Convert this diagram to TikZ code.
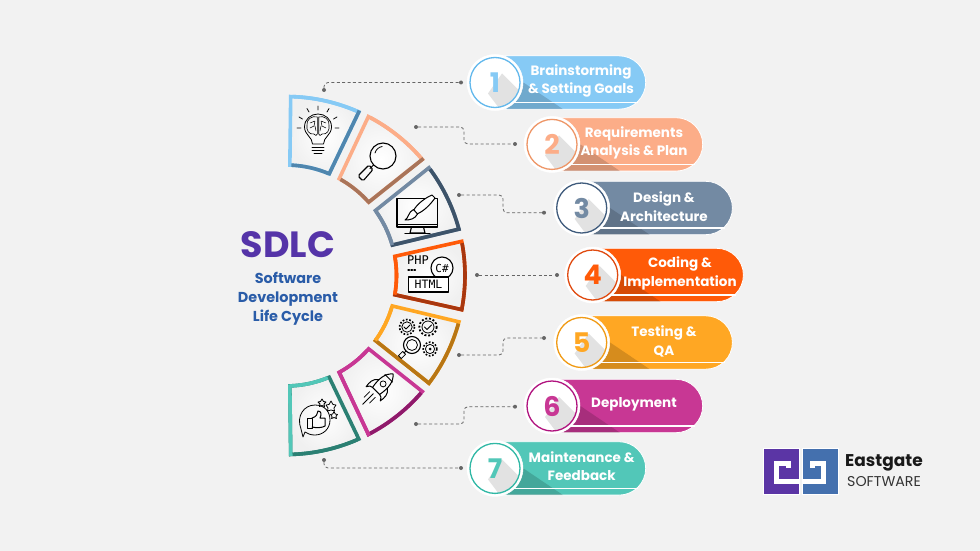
\documentclass[tikz,border=0pt]{standalone}
\usepackage{fontspec}
\setmainfont{Poppins}
\newfontfamily\codefont{DejaVu Sans Mono}
\usetikzlibrary{shapes.misc}

\definecolor{pagebg}{HTML}{F2F2F2}
\definecolor{titlepurple}{HTML}{5534A8}
\definecolor{titleblue}{HTML}{2A5CA8}
\definecolor{dashgray}{HTML}{666666}
\definecolor{shadowgray}{HTML}{E2E2E2}
\definecolor{logoblue}{HTML}{4470AE}
\definecolor{logopurple}{HTML}{5B35A5}
\definecolor{blueA}{HTML}{86CAF5}
\definecolor{blueB}{HTML}{4F86AE}
\definecolor{blueC}{HTML}{62B8EC}
\definecolor{peachA}{HTML}{FCAD88}
\definecolor{peachB}{HTML}{A97459}
\definecolor{peachC}{HTML}{EE9667}
\definecolor{slateA}{HTML}{738AA3}
\definecolor{slateB}{HTML}{3D5369}
\definecolor{slateC}{HTML}{3F5B7C}
\definecolor{redA}{HTML}{FF5A08}
\definecolor{redB}{HTML}{A8370F}
\definecolor{redC}{HTML}{E04A10}
\definecolor{amberA}{HTML}{FFA723}
\definecolor{amberB}{HTML}{B87614}
\definecolor{amberC}{HTML}{F09A14}
\definecolor{pinkA}{HTML}{C83794}
\definecolor{pinkB}{HTML}{8F1A6B}
\definecolor{pinkC}{HTML}{B0127E}
\definecolor{tealA}{HTML}{52C7B8}
\definecolor{tealB}{HTML}{2B8073}
\definecolor{tealC}{HTML}{30B8A5}

\tikzset{
	sectorfill/.style={inner color=white,outer color=black!6},
	sectoredge/.style={line width=3.6pt,line cap=butt},
	icon/.style={draw=black,line width=0.8pt,line join=round,line cap=round},
	dashlink/.style={draw=dashgray,line width=0.8pt,dash pattern=on 3pt off 2.4pt,rounded corners=4pt},
	linkdot/.style={circle,fill=dashgray,inner sep=0pt,minimum size=4pt},
	pillbox/.style={rounded rectangle,draw=white,line width=0.8pt,minimum width=177.4pt,minimum height=53.4pt,inner sep=0pt},
	pilltext/.style={text=white,font=\bfseries\fontsize{13.5}{18.5}\selectfont,align=center},
	numtext/.style={font=\bfseries\fontsize{27}{27}\selectfont},
	subtitle/.style={text=titleblue,font=\bfseries\fontsize{14.4}{19.2}\selectfont,align=center}
}

% outer angles, inner angles, colours of outer arc, lower side, inner arc, upper side
\newcommand{\sectorbox}[8]{
	\shade[sectorfill] (#1:179) arc[start angle=#1,end angle=#2,radius=179] -- (#4:110.5) arc[start angle=#4,end angle=#3,radius=110.5] -- cycle;
	\draw[sectoredge,draw=#8,line join=miter] (#1:179) arc[start angle=#1,end angle=#2,radius=179] -- (#4:110.5) arc[start angle=#4,end angle=#3,radius=110.5] -- cycle;
	\draw[sectoredge,draw=#5] (#1+0.6:179) arc[start angle=#1+0.6,end angle=#2+0.5,radius=179];
	\draw[sectoredge,draw=#6] (#2:180.5) -- (#4:109);
	\draw[sectoredge,draw=#7] (#4:110.5) arc[start angle=#4,end angle=#3+0.8,radius=110.5];
}

% name, x, y, pill colour, ring colour, number
\newcommand{\stepbadge}[6]{
	\node[pillbox,fill=#4] (p#1) at (#2+62,#3) {};
	\fill[black,opacity=0.16] (#2+21,#3-5) -- (#2+68,#3+26.7) -- (#2+12,#3+26.7) -- cycle;
	\draw[white,line width=1.2pt] (#2,#3+20) -- (#2+143,#3+20);
	\node[circle,fill=white,draw=white,line width=0.5pt,minimum size=56pt,inner sep=0pt] (c#1) at (#2,#3) {};
	\begin{scope}
		\clip (#2,#3) circle (25);
		\fill[shadowgray] (#2+7,#3-9) -- (#2+40,#3+24) -- (#2+15,#3+40) -- (#2-7,#3+11) -- cycle;
	\end{scope}
	\node[circle,draw=#5,line width=1.3pt,minimum size=50pt,inner sep=0pt] (r#1) at (#2,#3) {};
	\node[numtext,text=#4] (n#1) at (#2,#3) {#6};
}

\begin{document}
\begin{tikzpicture}[x=1pt,y=-1pt]
	\fill[pagebg] (0,0) rectangle (980,551);
	\path[use as bounding box] (0,0) rectangle (980,551);

	\node[text=titlepurple,font=\bfseries\fontsize{36.5}{36.5}\selectfont] (sdlc) at (288,245) {SDLC};
	\node[subtitle] (sub) at (288,298.5) {Software\\Development\\Life Cycle};

	\begin{scope}[shift={(286,275.5)}]
		\sectorbox{-88.5}{-66}{-88}{-67}{blueA}{blueB}{blueB}{blueA}
		\sectorbox{-62.6}{-40.4}{-61.2}{-41.6}{peachA}{peachB}{peachB}{peachA}
		\sectorbox{-37}{-15}{-36}{-16}{slateB}{slateB}{slateA}{slateA}
		\sectorbox{-11}{11}{-10}{10}{redB}{redB}{redA}{redA}
		\sectorbox{15}{37}{16}{36}{amberB}{amberB}{amberA}{amberA}
		\sectorbox{40.4}{62.6}{41.6}{61.2}{pinkB}{pinkA}{pinkA}{pinkA}
		\sectorbox{66}{88.5}{67}{88}{tealB}{tealA}{tealA}{tealB}
	\end{scope}

	% bulb
	\begin{scope}[shift={(318,128)}]
		\draw[icon] (-5.5,16) .. controls (-5.5,9) and (-13.5,7) .. (-13.5,-1) .. controls (-13.5,-9) and (-7,-14) .. (0,-14) .. controls (7,-14) and (13.5,-9) .. (13.5,-1) .. controls (13.5,7) and (5.5,9) .. (5.5,16) -- cycle;
		\draw[icon] (-6,19) -- (6,19) (-6,22) -- (6,22) (-4,25) -- (4,25);
		\draw[icon,line width=0.6pt] (-0.7,-11) .. controls (-6,-13) and (-12,-8) .. (-11,-3) .. controls (-12,2) and (-9,7) .. (-4,6) .. controls (-3,8) and (-1,8) .. (-0.7,6) -- cycle;
		\draw[icon,line width=0.6pt] (0.7,-11) .. controls (6,-13) and (12,-8) .. (11,-3) .. controls (12,2) and (9,7) .. (4,6) .. controls (3,8) and (1,8) .. (0.7,6) -- cycle;
		\draw[icon,line width=0.5pt] (-8,-5) -- (-3,-7) -- (-4,-2) -- (-8,0) (-3,-2) -- (-2,3) (8,-5) -- (3,-7) -- (4,-2) -- (8,0) (3,-2) -- (2,3);
		\draw[icon] (0,-18) -- (0,-22) (-9,-16) -- (-11,-19.5) (9,-16) -- (11,-19.5) (-15.5,-9) -- (-19,-11) (15.5,-9) -- (19,-11) (-17,0) -- (-21,0) (17,0) -- (21,0);
	\end{scope}

	% magnifier
	\draw[icon,line width=1.1pt] (383,156) circle (13);
	\draw[icon] (375,153) arc[start angle=195,end angle=260,radius=9];
	\draw[icon] (373.5,165) -- (370,168.5);
	\draw[icon,line width=1.1pt,rounded corners=1.5pt] (369,165) -- (373,169.5) -- (363,181) -- (358,176) -- cycle;

	% monitor
	\draw[icon,line width=1.2pt] (397,198.5) rectangle (437.5,227);
	\draw[icon] (397,224) -- (437.5,224);
	\draw[icon,line width=1.2pt] (411.5,227) -- (410,233) -- (425,233) -- (423.5,227);
	\draw[icon,line width=1.2pt] (405,233.5) -- (430,233.5);
	\draw[icon,fill=white,line width=1pt] (432,195) -- (435,198) .. controls (430,205) and (424,211) .. (417,214) -- (413.5,210.5) .. controls (417,204) and (425,198) .. (432,195) -- cycle;
	\draw[icon,fill=white,line width=1pt] (413.5,209.5) -- (417.5,214) .. controls (415,219) and (410,220) .. (405,220) .. controls (409,218) and (408,212) .. (413.5,209.5) -- cycle;

	% code
	\node[font=\codefont\fontsize{12}{12}\selectfont,inner sep=0pt] (php) at (418,260) {PHP};
	\draw[icon,line width=1.2pt,dash pattern=on 1.4pt off 1.6pt] (408,270) -- (416,270);
	\draw[icon,fill=white,line width=1.1pt] (442,268) circle (11);
	\node[font=\codefont\fontsize{11}{11}\selectfont,inner sep=0pt] (csharp) at (442,268) {C\#};
	\draw[icon,fill=white,line width=1.1pt] (408.5,277) rectangle (448.5,292);
	\node[font=\codefont\fontsize{11.5}{11.5}\selectfont,inner sep=0pt] (html) at (428.5,284.5) {HTML};

	% gears
	\draw[icon,line width=1.6pt,dash pattern=on 1.7pt off 1.7pt,line cap=butt] (407,327) circle (7.5);
	\draw[icon] (407,327) circle (5.2);
	\draw[icon] (404,327) -- (406,329) -- (410,325);
	\draw[icon,line width=1.8pt,dash pattern=on 1.9pt off 1.9pt,line cap=butt] (428,327) circle (8.7);
	\draw[icon] (428,327) circle (6);
	\draw[icon] (424.5,327) -- (427,329.5) -- (431.5,325);
	\draw[icon,line width=1.1pt] (412,345) circle (8.5);
	\draw[icon] (412,345) circle (5.5);
	\draw[icon] (406,351) -- (404,353);
	\draw[icon,rotate around={45:(402,355)}] (399,353) rectangle (405,357);
	\draw[icon,line width=1.6pt,dash pattern=on 1.7pt off 1.7pt,line cap=butt] (430,349) circle (6.8);
	\draw[icon] (430,349) circle (4.6);
	\fill (430,349) circle (1.5);

	% rocket
	\begin{scope}[shift={(381,386)},rotate=-45]
		\draw[icon,line width=1pt] (0,-17) .. controls (-6,-12) and (-7,-4) .. (-5,7) -- (5,7) .. controls (7,-4) and (6,-12) .. (0,-17) -- cycle;
		\draw[icon] (-5.5,-11) -- (5.5,-11);
		\draw[icon] (0,-3) circle (3);
		\draw[icon,line width=1pt] (-6,-3) .. controls (-11,0) and (-11,6) .. (-10,11) .. controls (-9,8) and (-7,7) .. (-5,7);
		\draw[icon,line width=1pt] (6,-3) .. controls (11,0) and (11,6) .. (10,11) .. controls (9,8) and (7,7) .. (5,7);
		\draw[icon] (-4,12) -- (-4,20) (0,11) -- (0,26) (4,12) -- (4,20);
	\end{scope}

	% thumb
	\draw[icon] (301,429) .. controls (296,416) and (304,405) .. (315,405) .. controls (325,405) and (330,412) .. (330,420) .. controls (330,429) and (323,435) .. (315,435) .. controls (311,435) and (308,434) .. (305,432) -- (303,437) -- cycle;
	\draw[icon,line width=1pt] (307,418) rectangle (312,428);
	\draw[icon,line width=1pt] (312,418) .. controls (316,417) and (318,414) .. (318,411) .. controls (321,411) and (322,414) .. (320,418) -- (325,418) -- (325,426) .. controls (322,428) and (316,428) .. (312,427);
	\draw[icon] (322,399) -- (323.5,401.5) -- (326,402) -- (324,404) -- (324.5,406.5) -- (322,405.5) -- (319.5,406.5) -- (320,404) -- (318,402) -- (320.5,401.5) -- cycle;
	\draw[icon] (331,401) -- (333,404.5) -- (336,405) -- (334,408) -- (334.5,411) -- (331,410) -- (327.5,411) -- (328,408) -- (326,405) -- (329,404.5) -- cycle;
	\draw[icon] (334,411.5) -- (335.3,414) -- (337.5,414.5) -- (336,416.3) -- (336.4,418.5) -- (334,417.5) -- (331.6,418.5) -- (332,416.3) -- (330.5,414.5) -- (332.7,414) -- cycle;

	% pills
	\stepbadge{1}{495}{82.5}{blueA}{blueC}{1}
	\stepbadge{2}{552}{144.4}{peachA}{peachC}{2}
	\stepbadge{3}{581.7}{208}{slateA}{slateC}{3}
	\stepbadge{4}{592.7}{275}{redA}{redC}{4}
	\stepbadge{5}{581.7}{342.5}{amberA}{amberC}{5}
	\stepbadge{6}{552}{406}{pinkA}{pinkC}{6}
	\stepbadge{7}{495}{468.4}{tealA}{tealC}{7}

	\node[pilltext] (t1) at (581,81) {Brainstorming\\\& Setting Goals};
	\node[pilltext] (t2) at (634,143) {Requirements\\Analysis \& Plan};
	\node[pilltext] (t3) at (664,206.5) {Design \&\\Architecture};
	\node[pilltext] (t4) at (680,273.5) {Coding \&\\Implementation};
	\node[pilltext] (t5) at (664,341.5) {Testing \&\\QA};
	\node[pilltext] (t6) at (634,404) {Deployment};
	\node[pilltext] (t7) at (581.7,466) {Maintenance \&\\Feedback};

	% connectors
	\node[linkdot] (d1a) at (324,90) {};
	\node[linkdot] (d1b) at (461,82.5) {};
	\draw[dashlink] (d1a) |- (d1b);
	\node[linkdot] (d2a) at (416,127) {};
	\node[linkdot] (d2b) at (515,144) {};
	\coordinate (b2) at (464,135.5);
	\draw[dashlink] (d2a) -| (b2) |- (d2b);
	\node[linkdot] (d3a) at (459,195) {};
	\node[linkdot] (d3b) at (544,212.7) {};
	\coordinate (b3) at (503,204);
	\draw[dashlink] (d3a) -| (b3) |- (d3b);
	\node[linkdot] (d4a) at (477,275) {};
	\node[linkdot] (d4b) at (557,275) {};
	\draw[dashlink] (d4a) -- (d4b);
	\node[linkdot] (d5a) at (459,355) {};
	\node[linkdot] (d5b) at (544,338) {};
	\coordinate (b5) at (503,346.5);
	\draw[dashlink] (d5a) -| (b5) |- (d5b);
	\node[linkdot] (d6a) at (416,424) {};
	\node[linkdot] (d6b) at (515,406.7) {};
	\coordinate (b6) at (464,415);
	\draw[dashlink] (d6a) -| (b6) |- (d6b);
	\node[linkdot] (d7a) at (324,460) {};
	\node[linkdot] (d7b) at (461,468) {};
	\draw[dashlink] (d7a) |- (d7b);

	% logo
	\node[fill=logopurple,draw=white,line width=0.8pt,minimum width=35.5pt,minimum height=46pt,inner sep=0pt] (logoa) at (781.5,471) {};
	\node[fill=logoblue,draw=white,line width=0.8pt,minimum width=36pt,minimum height=46pt,inner sep=0pt] (logob) at (820,471) {};
	\draw[white,line width=5pt,line join=miter] (799,481.5) -- (776.5,481.5) -- (776.5,463.5) -- (788,463.5) -- (788,468);
	\draw[white,line width=5pt,line join=miter] (802,481.5) -- (823.5,481.5) -- (823.5,463.5) -- (812,463.5) -- (812,468);
	\node[font=\bfseries\fontsize{17}{17}\selectfont,text=black!90] (east) at (884,462.5) {Eastgate};
	\node[font=\fontsize{14.2}{14.2}\selectfont,text=black!80] (soft) at (884,482) {SOFTWARE};
\end{tikzpicture}
\end{document}
